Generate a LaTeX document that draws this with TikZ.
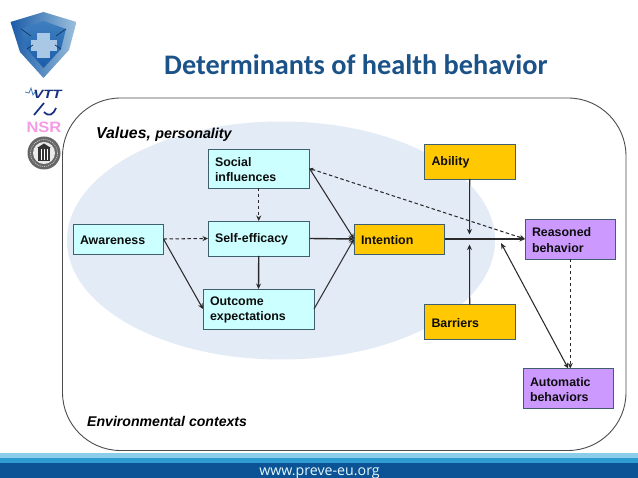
\documentclass[tikz,border=0pt]{standalone}
\usepackage{fontspec}
\setmainfont{Liberation Sans}
\newfontfamily\titlefont{Carlito}
\newfontfamily\webfont{Open Sans}
\usetikzlibrary{arrows.meta,shadings}
\definecolor{cyanbox}{HTML}{CCFFFF}
\definecolor{goldbox}{HTML}{FFC800}
\definecolor{purplebox}{HTML}{CC99FF}
\definecolor{boxedge}{HTML}{3F5F6F}
\definecolor{haze}{HTML}{E3EBF6}
\definecolor{titleblue}{HTML}{1B5288}
\definecolor{bandlight}{HTML}{8CCDEA}
\definecolor{bandmid}{HTML}{2E9BD2}
\definecolor{banddark}{HTML}{0B5394}
\definecolor{arrowgrey}{HTML}{2A2A2A}
\definecolor{shieldA}{HTML}{1A5CA8}
\definecolor{shieldB}{HTML}{9CC0DC}
\definecolor{shieldC}{HTML}{3F7FC0}
\definecolor{shieldD}{HTML}{A9C8E6}
\definecolor{logonavy}{HTML}{152F80}
\definecolor{logopink}{HTML}{F59BE6}
\tikzset{
  x=1pt,y=-1pt,
  bx/.style={draw=boxedge,line width=0.9pt,inner sep=0pt,outer sep=0pt,anchor=north west,font=\fontsize{12.4}{15.4}\selectfont\bfseries,text=black!95,execute at begin node={\rule{0pt}{11pt}}},
  bxsize/.style n args={2}{minimum width=#1,minimum height=#2,text width=#1-14,align=left},
  cy/.style={bx,fill=cyanbox},
  go/.style={bx,fill=goldbox},
  pu/.style={bx,fill=purplebox},
  solidarrow/.style={draw=arrowgrey,line width=1.05pt,-{Stealth[length=5.5pt,width=5pt]}},
  dasharrow/.style={solidarrow,dash pattern=on 3.5pt off 2.5pt},
  ctx/.style={font=\fontsize{14.1}{16}\selectfont\bfseries\itshape,text=black,anchor=base west,inner sep=0pt},
}
\begin{document}
\begin{tikzpicture}
\useasboundingbox (0,0) rectangle (638,478);
\fill[white] (0,0) rectangle (638,478);
% haze and frame
\fill[haze] (281,240.5) ellipse [x radius=214,y radius=119];
\draw[draw=black!70,line width=0.9pt,rounded corners=58pt] (62.5,98) rectangle (626,450.5);
% bottom bands
\fill[bandlight] (0,453) rectangle (638,458.5);
\fill[bandmid] (0,458.5) rectangle (638,463.5);
\fill[banddark] (0,463.5) rectangle (638,478);
\node[anchor=base,inner sep=0pt,text=white!90!cyan,font=\webfont\fontsize{14.2}{16}\selectfont] (web) at (319.5,476) {www.preve-eu.org};
% title
\node[anchor=base west,inner sep=0pt,text=titleblue,font=\titlefont\bfseries\fontsize{28.3}{30}\selectfont] (title) at (164,75) {Determinants of health behavior};
% shield logo
\shade[left color=shieldA,right color=shieldB]
  (10.5,22) -- (43.5,12) -- (76.5,22) -- (69,50) -- (43.5,78) -- (20,52) -- cycle;
\shade[top color=shieldC,bottom color=shieldA]
  (21,29) -- (43.5,21) -- (66,29) -- (61,49) -- (43.5,68) -- (27,49) -- cycle;
\fill[shieldD] (37,33) rectangle (50,58);
\fill[shieldD] (31,40) rectangle (57,51);
\draw[shieldA!60!black,line width=.7pt] (21,29) -- (31,36) (66,29) -- (56,36) (27,49) -- (33,45) (61,49) -- (55,45);
% small logos
\node[anchor=base west,inner sep=0pt,text=logonavy,xscale=1.25,font=\fontsize{12}{13}\selectfont\bfseries\itshape] (vtt) at (33,98.5) {VTT};
\draw[shieldC,line width=.8pt] (25,92) -- (29,93) -- (31,88) -- (33,95) -- (35,92);
\draw[logonavy,line width=1.7pt] (34,115) -- (44,103) (44,112) .. controls (49,117) and (53,115) .. (56,108);
\node[anchor=base,inner sep=0pt,text=logopink,draw=none,xscale=1.1,font=\fontsize{15}{14}\selectfont\bfseries] (nsr) at (44,133) {NSR};
\fill[black!60] (44,153) circle (16.5);
\draw[black!20,line width=.7pt,dash pattern=on 1pt off 1pt] (44,153) circle (13.5);
\fill[black!8] (44,153) circle (11);
\fill[black!80] (38,148) rectangle (50,161);
\fill[black!80] (44,143.5) -- (51,148) -- (37,148) -- cycle;
\draw[white,line width=.9pt] (41,149) -- (41,160) (44,149) -- (44,160) (47,149) -- (47,160);
% context labels
\node[ctx,font=\fontsize{15.8}{16}\selectfont\bfseries\itshape] (values) at (96,139) {Values, {\fontsize{14.3}{14}\selectfont personality}};
\node[ctx] (env) at (87,426.5) {Environmental contexts};
% boxes
\node[cy,bxsize={101.5}{39}] (social) at (208,149) {Social\\influences};
\node[cy,bxsize={101.5}{35}] (self) at (208,221) {Self-efficacy};
\node[cy,bxsize={90.5}{30}] (aware) at (73,224) {Awareness};
\node[cy,bxsize={111}{40}] (outcome) at (203,289) {Outcome\\expectations};
\node[go,bxsize={90.5}{30}] (intent) at (354,224) {Intention};
\node[go,bxsize={90.5}{35}] (ability) at (424.5,144) {Ability};
\node[go,bxsize={90.5}{35}] (barriers) at (424.5,304.5) {Barriers};
\node[pu,bxsize={90.5}{40}] (reasoned) at (525,219) {Reasoned\\behavior};
\node[pu,bxsize={90.5}{40}] (auto) at (523,368.5) {Automatic\\behaviors};
% free ends
\coordinate (jtop) at (469.5,234.5);
\coordinate (jbot) at (469.5,244.5);
\coordinate (jback) at (501,243);
% connectors
\draw[dasharrow] (aware.east) -- (self.west);
\draw[solidarrow] (aware.east) -- (outcome.west);
\draw[dasharrow] (social.south) -- (self.north);
\draw[solidarrow,line width=1.4pt] (self.south) -- (outcome.north);
\draw[solidarrow,line width=1.4pt] (self.east) -- (intent.west);
\draw[solidarrow] (social.east) -- (intent.west);
\draw[solidarrow] (outcome.east) -- (intent.west);
\draw[solidarrow,line width=1.2pt] (intent.east) -- (reasoned.west);
\draw[dasharrow,{Stealth[open,length=4pt,width=4pt]}-{Stealth[length=5.5pt,width=5pt]}] (social.east) -- (reasoned.west);
\draw[solidarrow] (ability.south) -- (jtop);
\draw[solidarrow] (barriers.north) -- (jbot);
\draw[dasharrow] (reasoned.south) -- (auto.north -| reasoned.south);
\draw[solidarrow,{Stealth[open,length=6pt,width=5pt]}-{Stealth[length=5.5pt,width=5pt]}] (jback) -- (auto.north);
\end{tikzpicture}
\end{document}
